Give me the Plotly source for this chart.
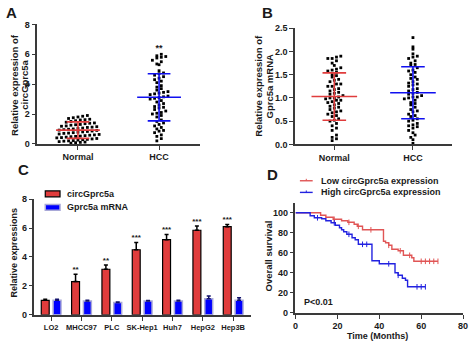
import plotly.graph_objects as go

W, H = 474, 345
def px(x): return x / W
def py(y): return 1 - y / H

# ---------------- DATA ----------------
# Panel A: circGprc5a relative expression
a_groups = ["Normal", "HCC"]
a_normal = [0.05, 0.08, 0.1, 0.12, 0.15, 0.18, 0.2, 0.22, 0.25, 0.28, 0.3, 0.33, 0.36, 0.4, 0.42,
            0.45, 0.48, 0.5, 0.52, 0.55, 0.58, 0.6, 0.63, 0.66, 0.7, 0.72, 0.75, 0.78, 0.8, 0.83,
            0.86, 0.9, 0.92, 0.95, 0.98, 1.0, 1.03, 1.06, 1.1, 1.12, 1.15, 1.18, 1.2, 1.25, 1.28,
            1.3, 1.35, 1.38, 1.4, 1.45, 1.5, 1.55, 1.6, 1.62, 1.65, 1.7, 1.75, 1.8, 1.85, 1.9]
a_hcc = [6.0, 5.9, 5.85, 5.8, 5.75, 5.6, 5.5, 5.35, 5.3, 4.9,
         4.75, 4.7, 4.6, 4.5, 4.4, 4.3, 4.2, 4.1,
         3.9, 3.8, 3.7, 3.6, 3.5, 3.45, 3.35, 3.3, 3.2, 3.15, 3.1, 3.05, 3.0, 3.4,
         2.9, 2.8, 2.7, 2.6, 2.5, 2.45, 2.3, 2.2, 2.1, 2.05, 2.0, 2.4,
         1.9, 1.8, 1.6, 1.5, 1.4, 1.3, 1.2, 1.1, 1.0,
         0.9, 0.85, 0.75, 0.6, 0.5, 0.35, 0.2]
a_mean = [0.92, 3.12]
a_sd = [0.55, 1.58]
a_sig = ["", "**"]

# Panel B: Gprc5a mRNA relative expression
b_groups = ["Normal", "HCC"]
b_normal = [0.08, 0.15, 0.2, 0.35, 0.4, 0.45, 0.5, 0.55, 0.6, 0.62, 0.65, 0.7, 0.72, 0.75, 0.8,
            0.82, 0.85, 0.88, 0.9, 0.92, 0.95, 0.98, 1.0, 1.02, 1.05, 1.08, 1.1, 1.12, 1.15, 1.18,
            1.2, 1.25, 1.3, 1.35, 1.4, 1.45, 1.5, 1.55, 1.6, 1.62, 1.65, 1.7, 1.75, 1.8, 1.85,
            1.88, 1.9, 0.3, 0.52, 0.68, 0.78, 0.95, 1.0, 1.25, 1.38, 1.58, 1.85, 0.12, 1.3, 1.48]
b_hcc = [0.02, 0.1, 0.15, 0.2, 0.25, 0.3, 0.35, 0.4, 0.42, 0.45, 0.5, 0.55, 0.6, 0.65, 0.7,
         0.75, 0.8, 0.85, 0.9, 0.95, 1.0, 1.02, 1.05, 1.08, 1.1, 1.12, 1.15, 1.2, 1.25, 1.3,
         1.35, 1.4, 1.45, 1.5, 1.55, 1.6, 1.65, 1.7, 1.75, 1.8, 1.85, 1.9, 1.95, 2.05, 2.1,
         2.3, 0.38, 0.62, 0.88, 0.98, 1.18, 1.28, 1.42, 1.58, 1.72, 1.88, 0.72, 1.02, 1.32, 0.52]
b_mean = [1.03, 1.11]
b_sd = [0.51, 0.56]

# Panel C: cell lines
c_lines = ["LO2", "MHCC97", "PLC", "SK-Hep1", "Huh7", "HepG2", "Hep3B"]
c_circ = [1.0, 2.3, 3.15, 4.5, 5.2, 5.85, 6.1]
c_circ_err = [0.08, 0.5, 0.3, 0.5, 0.35, 0.3, 0.15]
c_mrna = [1.0, 0.95, 0.85, 0.95, 0.95, 1.1, 1.0]
c_mrna_err = [0.08, 0.05, 0.03, 0.04, 0.05, 0.2, 0.18]
c_sig = ["", "**", "**", "***", "***", "***", "***"]

# Panel D: Kaplan-Meier
d_low_t = [0, 12, 14.5, 18, 22, 25, 28, 29.5, 32, 42, 43, 44.5, 46, 49, 51.5, 55.5, 56.5, 68]
d_low_s = [100, 97.5, 95.5, 93.5, 92, 90.5, 88.5, 86.5, 83, 71.5, 70, 67.5, 63.5, 62, 57.5, 55, 51.5, 51.5]
d_low_cens = [18.5, 25.5, 30, 36, 44.5, 50, 54.5, 60, 62, 64, 66, 68]
d_high_t = [0, 7, 9, 12.5, 14.5, 17, 19, 21, 22, 23, 24.5, 27, 28.5, 30, 36.5, 40, 47.5, 49, 51, 52.5, 53.5, 62]
d_high_s = [100, 97, 95, 94, 92, 90, 87.5, 85, 83, 81, 78.5, 75, 73, 68.5, 52, 49, 40, 37.5, 34.5, 32.5, 26, 26]
d_high_cens = [10.5, 18.5, 25.5, 32, 34, 44.5, 49, 58, 60, 62]

# ---------------- STYLE ----------------
FONT = "Liberation Sans, Arial, sans-serif"
TXT = "#1a1a1a"
AX = "#3a3a3a"
RED = "#e03c3c"
BLUE = "#1010f0"

def swarm(vals, binh, dx):
    idx = sorted(range(len(vals)), key=lambda i: vals[i])
    bins = {}
    for i in idx:
        bins.setdefault(int(round(vals[i] / binh)), []).append(i)
    off = [0.0] * len(vals)
    for k, members in bins.items():
        n = len(members)
        for j, i in enumerate(members):
            off[i] = (j - (n - 1) / 2) * dx
    return off

def step_at(ts, ss, t):
    v = ss[0]
    for ti, si in zip(ts, ss):
        if ti <= t:
            v = si
    return v

def meansd_xy(c, m, s, w=0.27, cw=0.14):
    xs = [c - w, c + w, None, c - cw, c + cw, None, c - cw, c + cw, None, c, c]
    ys = [m, m, None, m + s, m + s, None, m - s, m - s, None, m - s, m + s]
    return xs, ys

fig = go.Figure()

# ---- Panel A ----
for gi, (vals, col) in enumerate([(a_normal, RED), (a_hcc, BLUE)]):
    dx = 0.058 if gi == 0 else 0.055
    off = swarm(vals, 0.26, dx)
    fig.add_trace(go.Scatter(x=[gi + 1 + o for o in off], y=vals, mode="markers",
                             marker=dict(symbol="square", size=2.8, color="black"),
                             xaxis="x", yaxis="y", showlegend=False, cliponaxis=False))
    xs, ys = meansd_xy(gi + 1, a_mean[gi], a_sd[gi])
    fig.add_trace(go.Scatter(x=xs, y=ys, mode="lines", line=dict(color=col, width=1.6),
                             xaxis="x", yaxis="y", showlegend=False))
fig.add_trace(go.Scatter(x=[2], y=[max(a_hcc) + 0.4], mode="text", text=[a_sig[1]],
                         textfont=dict(size=9, color=TXT), xaxis="x", yaxis="y", showlegend=False))

# ---- Panel B ----
for gi, (vals, col) in enumerate([(b_normal, RED), (b_hcc, BLUE)]):
    off = swarm(vals, 0.085, 0.055)
    fig.add_trace(go.Scatter(x=[gi + 1 + o for o in off], y=vals, mode="markers",
                             marker=dict(symbol="square", size=2.8, color="black"),
                             xaxis="x2", yaxis="y2", showlegend=False, cliponaxis=False))
    xs, ys = meansd_xy(gi + 1, b_mean[gi], b_sd[gi], w=0.29, cw=0.15)
    fig.add_trace(go.Scatter(x=xs, y=ys, mode="lines", line=dict(color=col, width=1.6),
                             xaxis="x2", yaxis="y2", showlegend=False))

# ---- Panel C ----
cx = list(range(len(c_lines)))
fig.add_trace(go.Bar(x=cx, y=c_circ, name="circGprc5a", xaxis="x3", yaxis="y3",
                     marker=dict(color=RED, line=dict(color="black", width=1.2)),
                     error_y=dict(type="data", array=c_circ_err, arrayminus=[0] * 7, symmetric=False,
                                  color="black", thickness=1.5, width=2),
                     showlegend=False))
fig.add_trace(go.Bar(x=cx, y=c_mrna, name="Gprc5a mRNA", xaxis="x3", yaxis="y3",
                     marker=dict(color="#0000ff", line=dict(color="#a9a9d8", width=1.5)),
                     error_y=dict(type="data", array=c_mrna_err, arrayminus=[0] * 7, symmetric=False,
                                  color="#10106a", thickness=1.5, width=2),
                     showlegend=False))
fig.add_trace(go.Scatter(x=[i - 0.195 for i in cx],
                         y=[v + e + 0.3 for v, e in zip(c_circ, c_circ_err)],
                         mode="text", text=c_sig, textfont=dict(size=8, color=TXT),
                         xaxis="x3", yaxis="y3", showlegend=False, cliponaxis=False))

# ---- Panel D ----
for ts, ss, cens, col in [(d_low_t, d_low_s, d_low_cens, "#e05555"),
                          (d_high_t, d_high_s, d_high_cens, "#2222e0")]:
    fig.add_trace(go.Scatter(x=ts, y=ss, mode="lines", line=dict(color=col, width=1.4, shape="hv"),
                             xaxis="x4", yaxis="y4", showlegend=False))
    fig.add_trace(go.Scatter(x=cens, y=[step_at(ts, ss, t) for t in cens], mode="markers",
                             marker=dict(symbol="line-ns", size=4, line=dict(color=col, width=1)),
                             xaxis="x4", yaxis="y4", showlegend=False))

axcommon = dict(showline=True, linecolor=AX, linewidth=1.5, ticks="outside", ticklen=4,
                tickcolor=AX, tickwidth=1.3, showgrid=False, zeroline=False,
                tickfont=dict(family=FONT, size=9, color=TXT, weight="bold"))

fig.update_layout(
    width=W, height=H, margin=dict(l=0, r=0, t=0, b=0),
    paper_bgcolor="white", plot_bgcolor="white",
    font=dict(family=FONT, size=9, color=TXT, weight="bold"),
    barmode="group", bargap=0.22, bargroupgap=0.33,
    xaxis=dict(domain=[px(35), px(200)], range=[0.5, 2.5], tickvals=[1, 2], ticktext=a_groups,
               anchor="y", **axcommon),
    yaxis=dict(domain=[py(143), py(20)], range=[0, 8], tickvals=[0, 2, 4, 6, 8],
               anchor="x", **axcommon),
    xaxis2=dict(domain=[px(297), px(457)], range=[0.5, 2.5], tickvals=[1, 2], ticktext=b_groups,
                anchor="y2", **axcommon),
    yaxis2=dict(domain=[py(143.5), py(24)], range=[0, 2.5], tickvals=[0, 0.5, 1, 1.5, 2, 2.5],
                tickformat=".1f", anchor="x2", **axcommon),
    xaxis3=dict(domain=[px(32), px(252)], range=[-0.55, 6.58], tickvals=cx, ticktext=c_lines,
                anchor="y3", **{**axcommon, "tickfont": dict(family=FONT, size=7.5, color=TXT, weight="bold")}),
    yaxis3=dict(domain=[py(319), py(200)], range=[0, 8], tickvals=[0, 2, 4, 6, 8],
                anchor="x3", **axcommon),
    xaxis4=dict(domain=[px(297.5), px(468)], range=[0, 80], tickvals=[0, 20, 40, 60, 80],
                anchor="y4", **axcommon),
    yaxis4=dict(domain=[py(317), py(203.7)], range=[0, 110], tickvals=[0, 20, 40, 60, 80, 100],
                anchor="x4", **axcommon),
)

ann = []
def A(x, y, text, size=9, angle=0, xanchor="center"):
    ann.append(dict(x=px(x), y=py(y), xref="paper", yref="paper", text=text, showarrow=False,
                    textangle=angle, xanchor=xanchor, yanchor="middle",
                    font=dict(family=FONT, size=size, color=TXT, weight="bold")))

A(9, 7.5, "A", 15)
A(269, 7.5, "B", 15)
A(21, 169, "C", 15)
A(274, 175, "D", 15)
A(11.5, 82, "Relative expression of", 9.5, -90)
A(21.5, 82, "circGprc5a", 9.5, -90)
A(259.5, 83, "Relative expression of", 9.5, -90)
A(271.5, 83, "Gprc5a mRNA", 9.5, -90)
A(11, 255, "Relative expressions", 9, -90)
A(270.5, 258, "Overall survival", 9.5, -90)
A(381, 340.5, "Time (Months)", 9)
A(304, 306, "P<0.01", 9, xanchor="left")
# legend C
A(63, 194.5, "circGprc5a", 9, xanchor="left")
A(63, 208.5, "Gprc5a mRNA", 9, xanchor="left")
# legend D
A(321, 181, "Low circGprc5a expression", 9, xanchor="left")
A(321, 193, "High circGprc5a expression", 9, xanchor="left")
fig.update_layout(annotations=ann)

shapes = [
    dict(type="rect", xref="paper", yref="paper", x0=px(43), x1=px(58), y0=py(197.5), y1=py(191.5),
         fillcolor=RED, line=dict(color="black", width=1.2)),
    dict(type="rect", xref="paper", yref="paper", x0=px(43), x1=px(58), y0=py(211.5), y1=py(205.5),
         fillcolor="#0000ff", line=dict(color="#a9a9d8", width=1.5)),
    dict(type="line", xref="paper", yref="paper", x0=px(302), x1=px(315), y0=py(181), y1=py(181),
         line=dict(color="#e05555", width=1.4)),
    dict(type="line", xref="paper", yref="paper", x0=px(308.5), x1=px(308.5), y0=py(179), y1=py(181),
         line=dict(color="#e05555", width=1)),
    dict(type="line", xref="paper", yref="paper", x0=px(302), x1=px(315), y0=py(193), y1=py(193),
         line=dict(color="#2222e0", width=1.4)),
    dict(type="line", xref="paper", yref="paper", x0=px(308.5), x1=px(308.5), y0=py(191), y1=py(193),
         line=dict(color="#2222e0", width=1)),
]
fig.update_layout(shapes=shapes)

fig.write_html("out.html")
